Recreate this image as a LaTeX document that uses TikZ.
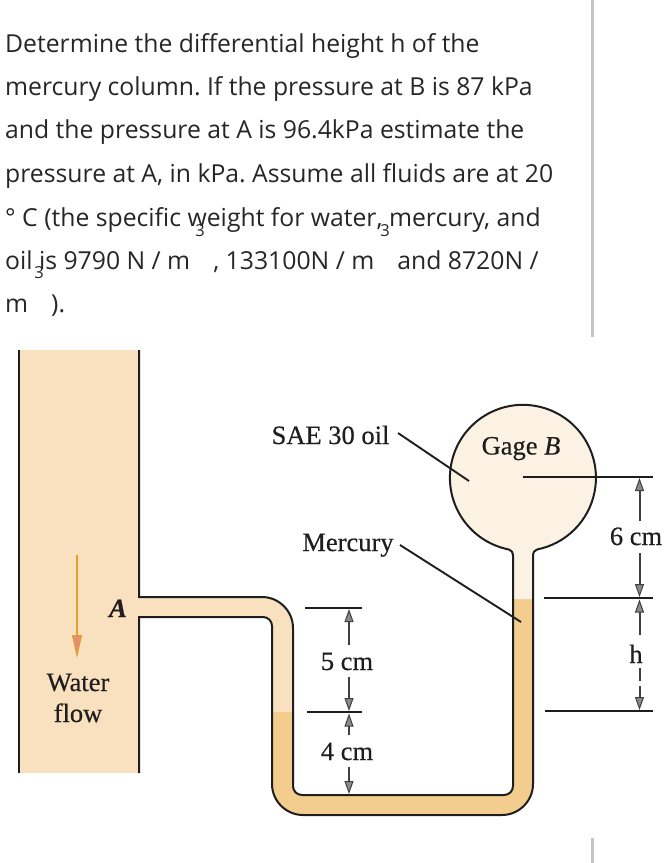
\documentclass[tikz,border=0pt]{standalone}
\usepackage{fontspec}
\setmainfont{Open Sans}
\newfontfamily\figfont[FakeBold=0.45]{Liberation Serif}
\usetikzlibrary{arrows.meta}
\definecolor{waterc}{HTML}{F9E1BF}
\definecolor{mercc}{HTML}{F2CD8E}
\definecolor{oilc}{HTML}{FBF2E4}
\definecolor{linec}{HTML}{1E1E1E}
\definecolor{sidec}{HTML}{C4C4C4}
\definecolor{flowc}{HTML}{E0A030}
\definecolor{flowhead}{HTML}{E58F70}
\definecolor{tipc}{HTML}{8A8A8A}
\tikzset{
 para/.style={anchor=base west,inner sep=0pt,font=\fontsize{24.75}{29}\selectfont,text=black!85},
 supthree/.style={anchor=center,inner sep=0pt,font=\fontsize{16.5}{19}\selectfont,text=black!85},
 figlabel/.style={anchor=base,inner sep=0pt,font=\figfont\fontsize{26.5}{31}\selectfont,text=linec},
 wall/.style={draw=linec,line width=2pt},
 ref/.style={draw=linec,line width=1.9pt},
 dim/.style={draw=linec!85,line width=2pt,-{Stealth[length=13pt,width=9pt,fill=tipc,inset=0pt,line width=1pt]}},
 dimplain/.style={draw=linec!85,line width=2pt},
}
\begin{document}
\frenchspacing
\begin{tikzpicture}[x=1pt,y=-1pt]
\useasboundingbox (0,0) rectangle (667,863);
% page edge
\draw[sidec,line width=3pt] (592.5,0) -- (592.5,337);
\draw[sidec,line width=3pt] (592.5,838) -- (592.5,863);
% paragraph
\node[para] (l1) at (5,52.5) {Determine the differential height h of the};
\node[para] (l2) at (5,95.5) {mercury column. If the pressure at B is 87 kPa};
\node[para] (l3) at (5,138.5) {and the pressure at A is 96.4kPa estimate the};
\node[para] (l4) at (5,182) {pressure at A, in kPa. Assume all fluids are at 20};
\node[para] (l5) at (5,226) {° C (the specific weight for water, mercury, and};
\node[para] (l6) at (5,269) {oil is 9790 N / m\hspace{23pt}, 133100N / m\hspace{23pt}and 8720N /};
\node[para] (l7) at (5,312) {m\hspace{23pt}).};
\node[supthree] (s1) at (200,231) {3};
\node[supthree] (s2) at (385,231) {3};
\node[supthree] (s3) at (39,273) {3};
% fills
\fill[waterc] (19,350) rectangle (139,773);
\fill[waterc] (139,597) -- (262,597) .. controls (279,597) and (293,611) .. (293,628)
  -- (293,712) -- (272,712) -- (272,626) .. controls (272,621) and (268,617) .. (263,617) -- (139,617) -- cycle;
\fill[mercc] (272,712) -- (293,712) -- (293,786) .. controls (293,791) and (297,795) .. (302,795)
  -- (504,795) .. controls (509,795) and (513,791) .. (513,786) -- (513,599) -- (533,599)
  -- (533,784) .. controls (533,801) and (519,815) .. (502,815)
  -- (303,815) .. controls (286,815) and (272,801) .. (272,784) -- cycle;
\fill[oilc] (513,599) -- (513,550) arc[start angle=98,end angle=442,radius=73] -- (533,599) -- cycle;
% walls
\draw[wall] (19,350) -- (19,773);
\draw[wall] (139,350) -- (139,597) -- (262,597) .. controls (279,597) and (293,611) .. (293,628)
  -- (293,786) .. controls (293,791) and (297,795) .. (302,795)
  -- (504,795) .. controls (509,795) and (513,791) .. (513,786) -- (513,556)
  .. controls (513,552) and (511,550) .. (509,549.5);
\draw[wall] (139,773) -- (139,617) -- (263,617) .. controls (268,617) and (272,621) .. (272,626)
  -- (272,784) .. controls (272,801) and (286,815) .. (303,815)
  -- (502,815) .. controls (519,815) and (533,801) .. (533,784) -- (533,556)
  .. controls (533,552) and (535,550) .. (537,549.5);
\draw[wall] (509,549.5) arc[start angle=101,end angle=439,radius=73];
% water-flow arrow
\coordinate (flowtop) at (77,555);
\coordinate (flowtip) at (77,658);
\draw[flowc,line width=2.4pt,-{Stealth[length=23pt,width=10pt,inset=0pt,fill=flowhead,line width=1pt]}] (flowtop) -- (flowtip);
% labels
\node[figlabel] (A) at (118,617) {\bfseries\itshape A};
\node[figlabel] (water) at (78,691) {Water};
\node[figlabel] (flow) at (78,722) {flow};
\node[figlabel] (sae) at (330.5,444) {SAE 30 oil};
\node[figlabel] (merc) at (348,551) {Mercury};
\node[figlabel] (gage) at (521,454.5) {Gage \textit{B}};
\node[figlabel] (six) at (636,545) {6 cm};
\node[figlabel] (hh) at (636,663) {h};
\node[figlabel] (five) at (347,670) {5 cm};
\node[figlabel] (four) at (347,760) {4 cm};
% leaders
\coordinate (saeend) at (398,433);
\coordinate (oilpt) at (469,481);
\coordinate (mercend) at (400,545);
\coordinate (mercpt) at (521,622);
\draw[ref] (saeend) -- (oilpt);
\draw[ref] (mercend) -- (mercpt);
% reference levels
\coordinate (r1a) at (523,477); \coordinate (r1b) at (653,477);
\coordinate (r2a) at (544,598); \coordinate (r2b) at (653,598);
\coordinate (r3a) at (545,711); \coordinate (r3b) at (653,711);
\coordinate (r4a) at (305,608); \coordinate (r4b) at (362,608);
\coordinate (r5a) at (307,712); \coordinate (r5b) at (362,712);
\draw[ref] (r1a) -- (r1b);
\draw[ref] (r2a) -- (r2b);
\draw[ref] (r3a) -- (r3b);
\draw[ref] (r4a) -- (r4b);
\draw[ref] (r5a) -- (r5b);
% dimension arrows
\coordinate (a1s) at (639.5,521); \coordinate (a1e) at (639.5,478);
\coordinate (a2s) at (639.5,553); \coordinate (a2e) at (639.5,597);
\coordinate (a3s) at (639.5,635); \coordinate (a3e) at (639.5,599.5);
\coordinate (a4a) at (639.5,668); \coordinate (a4b) at (639.5,681);
\coordinate (a4s) at (639.5,686); \coordinate (a4e) at (639.5,710);
\coordinate (b1s) at (349,645); \coordinate (b1e) at (349,609);
\coordinate (b2s) at (349,677); \coordinate (b2e) at (349,711);
\coordinate (b3s) at (349,735); \coordinate (b3e) at (349,713.5);
\coordinate (b4s) at (349,767); \coordinate (b4e) at (349,794);
\draw[dim] (a1s) -- (a1e);
\draw[dim] (a2s) -- (a2e);
\draw[dim] (a3s) -- (a3e);
\draw[dimplain] (a4a) -- (a4b);
\draw[dim] (a4s) -- (a4e);
\draw[dim] (b1s) -- (b1e);
\draw[dim] (b2s) -- (b2e);
\draw[dim] (b3s) -- (b3e);
\draw[dim] (b4s) -- (b4e);
\end{tikzpicture}
\end{document}
